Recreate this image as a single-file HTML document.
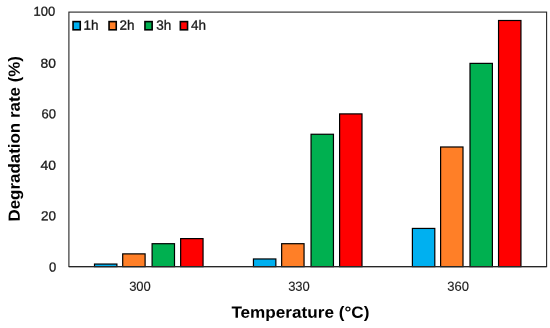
<!DOCTYPE html>
<html lang="en"><head><meta charset="utf-8"><title>Degradation rate vs temperature</title>
<style>html,body{margin:0;padding:0;background:#fff;}body{width:550px;height:328px;overflow:hidden;}svg{display:block;filter:blur(0.35px);}text{font-family:"Liberation Sans",sans-serif;}</style></head><body>
<svg width="550" height="328" viewBox="0 0 550 328">
<rect x="0" y="0" width="550" height="328" fill="#fff"/>
<rect x="68.9" y="12.1" width="477.70" height="254.50" fill="none" stroke="#262626" stroke-width="1.1"/>
<rect x="94.50" y="264.06" width="22.4" height="2.54" fill="#00B0F0" stroke="#000" stroke-width="1.2"/>
<rect x="122.70" y="253.88" width="22.4" height="12.72" fill="#FF7F27" stroke="#000" stroke-width="1.2"/>
<rect x="152.10" y="243.70" width="22.4" height="22.91" fill="#00B050" stroke="#000" stroke-width="1.2"/>
<rect x="180.65" y="238.61" width="22.4" height="27.99" fill="#FF0000" stroke="#000" stroke-width="1.2"/>
<rect x="253.45" y="258.97" width="22.4" height="7.63" fill="#00B0F0" stroke="#000" stroke-width="1.2"/>
<rect x="281.65" y="243.70" width="22.4" height="22.91" fill="#FF7F27" stroke="#000" stroke-width="1.2"/>
<rect x="311.05" y="134.26" width="22.4" height="132.34" fill="#00B050" stroke="#000" stroke-width="1.2"/>
<rect x="339.60" y="113.90" width="22.4" height="152.70" fill="#FF0000" stroke="#000" stroke-width="1.2"/>
<rect x="412.40" y="228.43" width="22.4" height="38.17" fill="#00B0F0" stroke="#000" stroke-width="1.2"/>
<rect x="440.60" y="146.99" width="22.4" height="119.61" fill="#FF7F27" stroke="#000" stroke-width="1.2"/>
<rect x="470.00" y="63.38" width="22.4" height="203.22" fill="#00B050" stroke="#000" stroke-width="1.2"/>
<rect x="498.55" y="20.50" width="22.4" height="246.10" fill="#FF0000" stroke="#000" stroke-width="1.2"/>
<line x1="68.9" y1="266.6" x2="546.6" y2="266.6" stroke="#262626" stroke-width="1.1"/>
<rect x="73.05" y="21.6" width="7.2" height="8.2" fill="#00B0F0" stroke="#000" stroke-width="1.6"/>
<text x="83.5" y="29.8" transform="rotate(0.03 83.5 29.8)" font-size="13.5" fill="#1a1a1a" stroke="#1a1a1a" stroke-width="0.3">1h</text>
<rect x="109.05" y="21.6" width="7.2" height="8.2" fill="#FF7F27" stroke="#000" stroke-width="1.6"/>
<text x="119.5" y="29.8" transform="rotate(0.03 119.5 29.8)" font-size="13.5" fill="#1a1a1a" stroke="#1a1a1a" stroke-width="0.3">2h</text>
<rect x="144.95" y="21.6" width="7.2" height="8.2" fill="#00B050" stroke="#000" stroke-width="1.6"/>
<text x="156.3" y="29.8" transform="rotate(0.03 156.3 29.8)" font-size="13.5" fill="#1a1a1a" stroke="#1a1a1a" stroke-width="0.3">3h</text>
<rect x="180.35" y="21.6" width="7.2" height="8.2" fill="#FF0000" stroke="#000" stroke-width="1.6"/>
<text x="191" y="29.8" transform="rotate(0.03 191 29.8)" font-size="13.5" fill="#1a1a1a" stroke="#1a1a1a" stroke-width="0.3">4h</text>
<text x="56.2" y="271.40" transform="rotate(0.03 56.2 271.40)" font-size="13" text-anchor="end" fill="#1a1a1a" stroke="#1a1a1a" stroke-width="0.3">0</text>
<text x="55.9" y="220.30" transform="rotate(0.03 55.9 220.30)" font-size="13" text-anchor="end" textLength="15" lengthAdjust="spacingAndGlyphs" fill="#1a1a1a" stroke="#1a1a1a" stroke-width="0.3">20</text>
<text x="55.9" y="169.65" transform="rotate(0.03 55.9 169.65)" font-size="13" text-anchor="end" textLength="15.5" lengthAdjust="spacingAndGlyphs" fill="#1a1a1a" stroke="#1a1a1a" stroke-width="0.3">40</text>
<text x="55.9" y="118.35" transform="rotate(0.03 55.9 118.35)" font-size="13" text-anchor="end" fill="#1a1a1a" stroke="#1a1a1a" stroke-width="0.3">60</text>
<text x="55.9" y="67.80" transform="rotate(0.03 55.9 67.80)" font-size="13" text-anchor="end" textLength="15.4" lengthAdjust="spacingAndGlyphs" fill="#1a1a1a" stroke="#1a1a1a" stroke-width="0.3">80</text>
<text x="55.3" y="15.85" transform="rotate(0.03 55.3 15.85)" font-size="13" text-anchor="end" fill="#1a1a1a" stroke="#1a1a1a" stroke-width="0.3">100</text>
<text x="140" y="290.7" transform="rotate(0.03 140 290.7)" font-size="13" text-anchor="middle" fill="#1a1a1a" stroke="#1a1a1a" stroke-width="0.15">300</text>
<text x="299" y="290.7" transform="rotate(0.03 299 290.7)" font-size="13" text-anchor="middle" fill="#1a1a1a" stroke="#1a1a1a" stroke-width="0.15">330</text>
<text x="458.2" y="290.7" transform="rotate(0.03 458.2 290.7)" font-size="13" text-anchor="middle" fill="#1a1a1a" stroke="#1a1a1a" stroke-width="0.15">360</text>
<text x="300.4" y="317.7" transform="rotate(0.03 300.4 317.7)" font-size="16.2" font-weight="bold" text-anchor="middle" fill="#000" textLength="138" lengthAdjust="spacingAndGlyphs">Temperature (°C)</text>
<text transform="translate(19.7 138.8) rotate(-90.03)" font-size="16.2" font-weight="bold" text-anchor="middle" fill="#000" textLength="165.6" lengthAdjust="spacingAndGlyphs">Degradation rate (%)</text>
</svg></body></html>
